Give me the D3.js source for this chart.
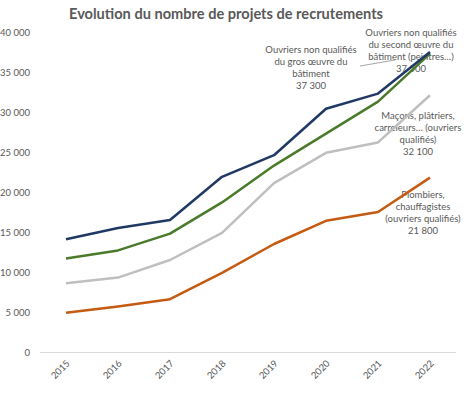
<!DOCTYPE html>
<html>
<head>
<meta charset="utf-8">
<script src="https://cdn.jsdelivr.net/npm/d3@7"></script>
<style>
  body { margin: 0; background: #fff; }
  #chart { width: 474px; height: 395px; }
  text { font-family: Lato, "Open Sans", sans-serif; fill: #595959; }
</style>
</head>
<body>
<div id="chart"></div>
<script>
(function() {

  var years = ['2015', '2016', '2017', '2018', '2019', '2020', '2021', '2022'];
  var secondOeuvre = [14100, 15500, 16500, 21900, 24600, 30400, 32300, 37500];
  var grosOeuvre = [11700, 12700, 14800, 18700, 23300, 27300, 31300, 37300];
  var macons = [8600, 9300, 11500, 14900, 21100, 24900, 26200, 32100];
  var plombiers = [4900, 5700, 6600, 9900, 13500, 16400, 17500, 21800];
  var yTicks = [0, 5000, 10000, 15000, 20000, 25000, 30000, 35000, 40000];

  var series = [
    {values: macons, color: '#bfbfbf',
     label: ['Maçons, plâtriers,', 'carreleurs… (ouvriers', 'qualifiés)', '32 100'], lx: 418, ly: 115},
    {values: plombiers, color: '#c55a11',
     label: ['Plombiers,', 'chauffagistes', '(ouvriers qualifiés)', '21 800'], lx: 423, ly: 194},
    {values: grosOeuvre, color: '#4a7a2a',
     label: ['Ouvriers non qualifiés', 'du gros œuvre du', 'bâtiment', '37 300'], lx: 311, ly: 49},
    {values: secondOeuvre, color: '#203864',
     label: ['Ouvriers non qualifiés', 'du second œuvre du', 'bâtiment (peintres…)', '37 500'], lx: 411, ly: 32}
  ];

  var width = 474;
  var height = 395;
  var left = 40, right = 456, top = 32, bottom = 352;

  var svg = d3.select('#chart')
    .append('svg')
    .attr('width', width)
    .attr('height', height);

  var xScale = d3.scalePoint()
    .domain(years)
    .range([left, right])
    .padding(0.5);

  var yScale = d3.scaleLinear()
    .domain([0, 40000])
    .range([bottom, top]);

  var fmt = function(d) { return d3.format(',')(d).replace(',', ' '); };

  svg.append('text')
    .attr('x', 226)
    .attr('y', 19)
    .attr('text-anchor', 'middle')
    .style('font-size', '14.6px')
    .style('font-weight', 'bold')
    .text('Evolution du nombre de projets de recrutements');

  // y axis labels, no line
  var yAxis = d3.axisLeft(yScale).tickValues(yTicks).tickFormat(fmt).tickSize(0).tickPadding(0);
  var gy = svg.append('g')
    .attr('transform', 'translate(30, 0)')
    .call(yAxis);
  gy.select('.domain').remove();
  gy.selectAll('.tick>text')
    .style('font-size', '9.5px')
    .style('fill', '#595959');

  // x axis
  var xAxis = d3.axisBottom(xScale).tickSize(0).tickPadding(0);
  var gx = svg.append('g')
    .attr('transform', 'translate(0, ' + bottom + ')')
    .call(xAxis);
  gx.select('.domain')
    .attr('stroke', '#d9d9d9')
    .attr('d', 'M' + left + ',0.5H' + right);
  gx.selectAll('.tick>text')
    .style('font-size', '9.5px')
    .style('fill', '#595959')
    .attr('text-anchor', 'end')
    .attr('dy', null)
    .attr('y', 0)
    .attr('transform', 'translate(4, 12) rotate(-45)');

  var line = d3.line()
    .x(function(d, i) { return xScale(years[i]); })
    .y(function(d) { return yScale(d); });

  // data labels sit under the lines, like in the original
  series.forEach(function(s) {
    var t = svg.append('text')
      .attr('text-anchor', 'middle')
      .style('font-size', '9.5px');
    s.label.forEach(function(str, i) {
      t.append('tspan')
        .attr('x', s.lx)
        .attr('y', s.ly + 3.5 + i * 12)
        .text(str);
    });
  });

  // leader line for the gros oeuvre label
  svg.append('line')
    .attr('x1', 360).attr('y1', 66)
    .attr('x2', 395).attr('y2', 60)
    .attr('stroke', '#a6a6a6')
    .attr('stroke-width', 1);

  svg.selectAll('path.serie')
    .data(series)
    .enter()
    .append('path')
    .attr('class', 'serie')
    .attr('d', function(d) { return line(d.values); })
    .attr('fill', 'none')
    .attr('stroke', function(d) { return d.color; })
    .attr('stroke-width', 2.5)
    .attr('stroke-linejoin', 'round');

})();
</script>
</body>
</html>
